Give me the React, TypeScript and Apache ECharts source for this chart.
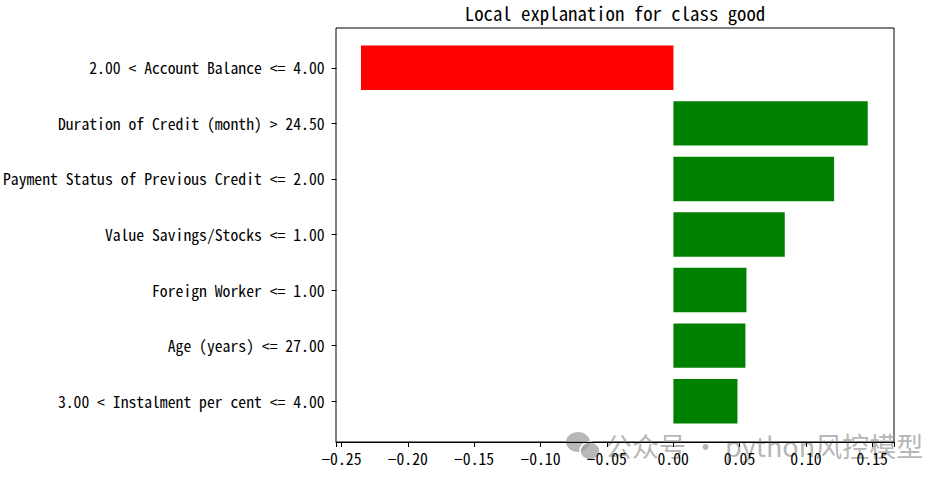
import React, { useEffect, useRef } from "react";
import * as echarts from "echarts";

const categories = [
  "2.00 < Account Balance <= 4.00",
  "Duration of Credit (month) > 24.50",
  "Payment Status of Previous Credit <= 2.00",
  "Value Savings/Stocks <= 1.00",
  "Foreign Worker <= 1.00",
  "Age (years) <= 27.00",
  "3.00 < Instalment per cent <= 4.00",
];
const weights = [-0.2357, 0.1466, 0.1212, 0.084, 0.0551, 0.0543, 0.0483];
const xMin = -0.2541;
const xMax = 0.1664;
const titleText = "Local explanation for class good";
const watermark = "公众号 · python风控模型";

const FONT = "'Noto Sans Mono CJK SC', 'Noto Sans Mono CJK JP', 'Liberation Mono', monospace";

export default function App() {
  const ref = useRef<HTMLDivElement>(null);
  useEffect(() => {
    if (!ref.current) return;
    const chart = echarts.init(ref.current, null, { renderer: "svg" });
    const fmt = (v: number) => {
      const q = v / 0.05;
      if (Math.abs(q - Math.round(q)) > 1e-6) return "";
      if (Math.abs(v) < 1e-9) return "0.00";
      return (v < 0 ? "\u2212" : "") + Math.abs(v).toFixed(2);
    };
    chart.setOption({
      animation: false,
      backgroundColor: "#fff",
      title: {
        text: titleText,
        left: 615,
        top: 3,
        textAlign: "center",
        padding: 0,
        textStyle: { fontFamily: FONT, fontSize: 18.8, fontWeight: "normal", color: "#000" },
      },
      grid: [
        { left: 336, top: 28, width: 558, height: 414, show: true, borderColor: "#000", borderWidth: 1, backgroundColor: "transparent" },
        { left: 336, top: 40, width: 558, height: 389 },
      ],
      xAxis: [
        {
          type: "value",
          gridIndex: 0,
          min: xMin,
          max: xMax,
          splitNumber: 8,
          minInterval: 0.05,
          maxInterval: 0.05,
          splitLine: { show: false },
          axisLine: { show: true, onZero: false, lineStyle: { color: "#000", width: 1 } },
          axisTick: { show: true, length: 5, lineStyle: { color: "#000" } },
          axisLabel: { formatter: fmt, margin: 9, fontFamily: FONT, fontSize: 15.7, color: "#000" },
        },
        { type: "value", gridIndex: 1, min: xMin, max: xMax, show: false },
      ],
      yAxis: [
        { type: "value", gridIndex: 0, show: false, min: 0, max: 1 },
        {
          type: "category",
          gridIndex: 1,
          data: categories,
          inverse: true,
          position: "left",
          axisLine: { show: false, onZero: false },
          axisTick: { show: true, alignWithLabel: true, length: 5, lineStyle: { color: "#000" } },
          axisLabel: { margin: 12, fontFamily: FONT, fontSize: 15.7, color: "#000" },
        },
      ],
      series: [
        {
          type: "bar",
          xAxisIndex: 1,
          yAxisIndex: 1,
          barWidth: "80%",
          data: weights.map((v) => ({ value: v, itemStyle: { color: v < 0 ? "#ff0000" : "#008000" } })),
        },
      ],
      graphic: [
        {
          type: "group",
          left: 566,
          top: 432,
          silent: true,
          children: [
            { type: "ellipse", shape: { cx: 13, cy: 11, rx: 12, ry: 10 }, style: { fill: "rgba(160,160,160,0.75)" } },
            { type: "ellipse", shape: { cx: 25, cy: 20, rx: 10, ry: 9 }, style: { fill: "rgba(160,160,160,0.75)", stroke: "#fff", lineWidth: 1.5 } },
          ],
        },
        {
          type: "text",
          left: 605,
          top: 432,
          silent: true,
          style: { text: watermark, fontFamily: "'Noto Sans CJK SC', sans-serif", fontSize: 27, fill: "rgba(150,150,150,0.7)" },
        },
      ],
    });
    return () => chart.dispose();
  }, []);
  return <div ref={ref} style={{ position: "fixed", left: 0, top: 0, width: 947, height: 486 }} />;
}
